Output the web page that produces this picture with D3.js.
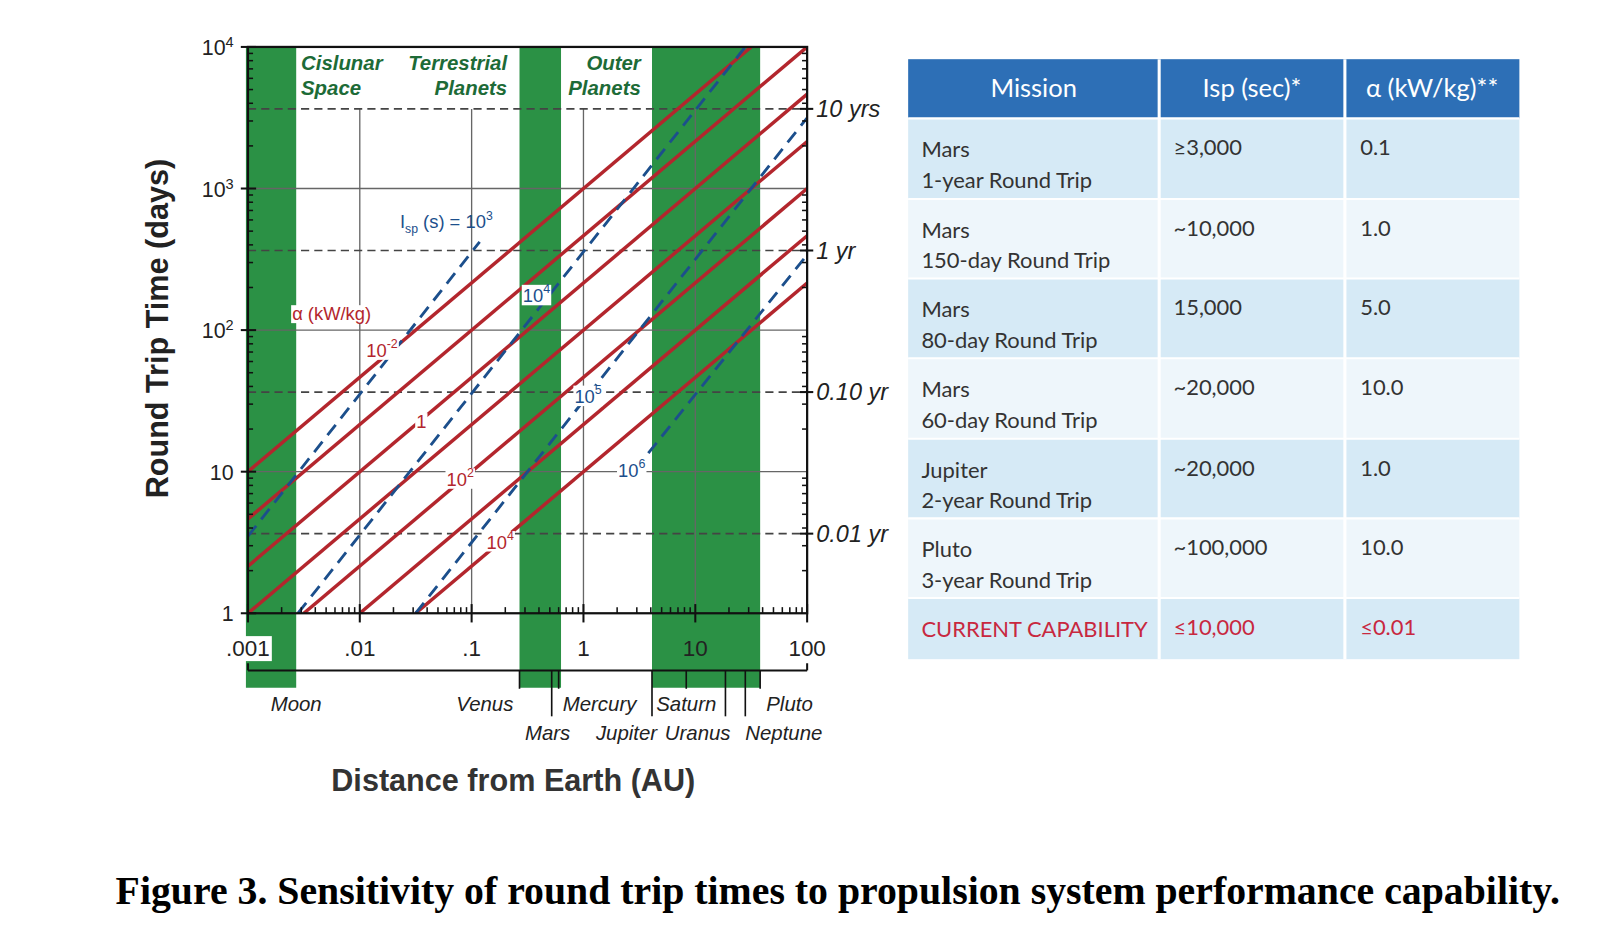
<!DOCTYPE html>
<html><head><meta charset="utf-8">
<script src="https://cdn.jsdelivr.net/npm/d3@7"></script>
<style>body{margin:0;background:#fff}svg{display:block}</style>
</head><body>
<svg id="c" width="1600" height="929"></svg>
<script>
// ---------------- data ----------------
const yTickVals = [1, 10, 100, 1000, 10000];
const yTickLabels = ["1", "10", "10^2", "10^3", "10^4"];
const xTickVals = [0.001, 0.01, 0.1, 1, 10, 100];
const xTickLabels = [".001", ".01", ".1", "1", "10", "100"];
const yearVals = [3652, 365, 36.5, 3.65];
const yearLabels = ["10 yrs", "1 yr", "0.10 yr", "0.01 yr"];
// green bands [from AU, to AU]
const bandFrom = [0.00095, 0.268, 4.1];
const bandTo = [0.0027, 0.63, 38];
const regionNames = [["Cislunar", "Space"], ["Terrestrial", "Planets"], ["Outer", "Planets"]];
// alpha (kW/kg) lines: start/end in data units (AU, days)
const alphaNames = ["10^-2", "10^-1", "1", "10", "10^2", "10^3", "10^4"];
const alphaX0 = [0.001, 0.001, 0.001, 0.001, 0.00316, 0.01, 0.0316];
const alphaY0 = [10, 4.64, 2.15, 1, 1, 1, 1];
const alphaX1 = [31.6, 100, 100, 100, 100, 100, 100];
const alphaY1 = [10000, 10000, 4640, 2150, 1000, 464, 215];
const alphaLabelX = [0.0158, null, 0.0355, null, 0.079, null, 0.18];
const alphaLabelY = [70, null, 22, null, 8.6, null, 3.1];
// Isp (s) lines
const ispNames = ["10^3", "10^4", "10^5", "10^6"];
const ispX0 = [0.001, 0.0028, 0.0316, 3.8];
const ispY0 = [3.5, 1, 1, 13.5];
const ispX1 = [0.118, 28, 100, 100];
const ispY1 = [420, 10000, 3160, 340];
const ispLabelX = [null, 0.38, 1.1, 2.7];
const ispLabelY = [null, 170, 33, 9.9];
// planets: name, distance AU, row
const planetNames = ["Moon", "Venus", "Mars", "Mercury", "Jupiter", "Saturn", "Uranus", "Neptune", "Pluto"];
const planetDist = [0.0027, 0.268, 0.52, 0.6, 4.1, 8.3, 18.6, 28, 38];
const planetRow = [1, 1, 2, 1, 2, 1, 2, 2, 1];
// table
const tableHeaders = ["Mission", "Isp (sec)*", "α (kW/kg)**"];
const missionNames = ["Mars", "Mars", "Mars", "Mars", "Jupiter", "Pluto", "CURRENT CAPABILITY"];
const missionDetail = ["1-year Round Trip", "150-day Round Trip", "80-day Round Trip", "60-day Round Trip", "2-year Round Trip", "3-year Round Trip", ""];
const ispReq = ["≥3,000", "~10,000", "15,000", "~20,000", "~20,000", "~100,000", "≤10,000"];
const alphaReq = ["0.1", "1.0", "5.0", "10.0", "1.0", "10.0", "≤0.01"];

// ---------------- chart ----------------
const root = d3.select("#c");
const svg = root.append("g").attr("transform", "scale(1.0204)");
const F = "'Liberation Sans', Arial, sans-serif";
const x = d3.scaleLog().domain([0.001, 100]).range([243, 791]);
const y = d3.scaleLog().domain([1, 10000]).range([601, 46]);
const GREEN = "#2b9145", RED = "#b3262d", BLUE = "#1c4f8c";

function supText(sel, s, size) {
  const parts = s.split("^");
  sel.text(null);
  sel.append("tspan").text(parts[0]);
  if (parts[1] !== undefined) sel.append("tspan").attr("font-size", size * 0.68).attr("dy", -size * 0.38).text(parts[1]);
}

const defs = root.append("defs");
defs.append("clipPath").attr("id", "pc").append("rect").attr("x", 243).attr("y", 46).attr("width", 548).attr("height", 555);

svg.selectAll(".band").data(bandFrom).enter().append("rect")
  .attr("x", (d) => Math.max(241, x(d))).attr("y", 46)
  .attr("width", (d, i) => x(bandTo[i]) - Math.max(241, x(d)))
  .attr("height", 674 - 46).attr("fill", GREEN);

const g = svg.append("g");
[10, 100, 1000].forEach(v => g.append("line").attr("x1", 243).attr("x2", 791).attr("y1", y(v)).attr("y2", y(v)).attr("stroke", "#666").attr("stroke-width", 1.3));
[0.01, 0.1, 1, 10].forEach(v => g.append("line").attr("x1", x(v)).attr("x2", x(v)).attr("y1", y(3652)).attr("y2", 601).attr("stroke", "#666").attr("stroke-width", 1.3));
yearVals.forEach(v => g.append("line").attr("x1", 243).attr("x2", 791).attr("y1", y(v)).attr("y2", y(v)).attr("stroke", "#444").attr("stroke-width", 1.6).attr("stroke-dasharray", "8,5"));

const rx = [295, 497, 628], ra = ["start", "end", "end"];
regionNames.forEach((n, i) => {
  n.forEach((t, j) => svg.append("text").attr("x", rx[i]).attr("y", 69 + j * 24).attr("text-anchor", ra[i])
    .attr("font-family", F).attr("font-size", 20).attr("font-weight", "bold").attr("font-style", "italic")
    .attr("fill", "#1d6b37").text(t));
});

const lg = svg.append("g").attr("clip-path", "url(#pc)");
alphaNames.forEach((n, i) => lg.append("line").attr("x1", x(alphaX0[i])).attr("y1", y(alphaY0[i])).attr("x2", x(alphaX1[i])).attr("y2", y(alphaY1[i]))
  .attr("stroke", RED).attr("stroke-width", 3.4));
ispNames.forEach((n, i) => lg.append("line").attr("x1", x(ispX0[i])).attr("y1", y(ispY0[i])).attr("x2", x(ispX1[i])).attr("y2", y(ispY1[i]))
  .attr("stroke", BLUE).attr("stroke-width", 2.8).attr("stroke-dasharray", "13,8"));

function boxLabel(px, py, s, color, size) {
  const t = svg.append("text").attr("x", px).attr("y", py).attr("text-anchor", "middle").attr("dominant-baseline", "middle")
    .attr("font-family", F).attr("font-size", size).attr("fill", color);
  supText(t, s, size);
  const b = t.node().getBBox();
  svg.insert("rect", () => t.node()).attr("x", b.x - 1).attr("y", b.y + 2).attr("width", b.width + 2).attr("height", b.height - 3).attr("fill", "#fff");
}
alphaNames.forEach((n, i) => { if (alphaLabelX[i]) boxLabel(x(alphaLabelX[i]), y(alphaLabelY[i]), n, RED, 18); });
ispNames.forEach((n, i) => { if (ispLabelX[i]) boxLabel(x(ispLabelX[i]), y(ispLabelY[i]), n, BLUE, 18); });
boxLabel(325, 309, "α (kW/kg)", RED, 18);
const it = svg.append("text").attr("x", 392).attr("y", 223).attr("font-family", F).attr("font-size", 18).attr("fill", BLUE);
it.append("tspan").text("I");
it.append("tspan").attr("font-size", 12).attr("dy", 5).text("sp");
it.append("tspan").attr("dy", -5).text(" (s) = 10");
it.append("tspan").attr("font-size", 12).attr("dy", -7).text("3");

svg.append("rect").attr("x", 243).attr("y", 46).attr("width", 548).attr("height", 555).attr("fill", "none").attr("stroke", "#111").attr("stroke-width", 2.2);

const minorY = [];
for (let e = 0; e < 4; e++) for (let k = 2; k <= 9; k++) minorY.push(k * Math.pow(10, e));
minorY.forEach(v => {
  svg.append("line").attr("x1", 243).attr("x2", 248).attr("y1", y(v)).attr("y2", y(v)).attr("stroke", "#111").attr("stroke-width", 1.5);
  svg.append("line").attr("x1", 786).attr("x2", 791).attr("y1", y(v)).attr("y2", y(v)).attr("stroke", "#111").attr("stroke-width", 1.5);
});
const minorX = [];
for (let e = -3; e < 2; e++) for (let k = 2; k <= 9; k++) minorX.push(k * Math.pow(10, e));
minorX.forEach(v => svg.append("line").attr("x1", x(v)).attr("x2", x(v)).attr("y1", 601).attr("y2", 595).attr("stroke", "#111").attr("stroke-width", 1.5));
xTickVals.forEach(v => svg.append("line").attr("x1", x(v)).attr("x2", x(v)).attr("y1", 592).attr("y2", 610).attr("stroke", "#111").attr("stroke-width", 2));
yTickVals.forEach(v => svg.append("line").attr("x1", 236).attr("x2", 251).attr("y1", y(v)).attr("y2", y(v)).attr("stroke", "#111").attr("stroke-width", 2));
yearVals.forEach(v => svg.append("line").attr("x1", 784).attr("x2", 797).attr("y1", y(v)).attr("y2", y(v)).attr("stroke", "#111").attr("stroke-width", 2));

yTickVals.forEach((v, i) => {
  const t = svg.append("text").attr("x", 229).attr("y", y(v) + 8).attr("text-anchor", "end").attr("font-family", F).attr("font-size", 21).attr("fill", "#222");
  supText(t, yTickLabels[i], 21);
});
xTickVals.forEach((v, i) => {
  const t = svg.append("text").attr("x", x(v)).attr("y", 643).attr("text-anchor", "middle").attr("font-family", F).attr("font-size", 22).attr("fill", "#222").text(xTickLabels[i]);
  if (i === 0) { const b = t.node().getBBox(); svg.insert("rect", () => t.node()).attr("x", b.x - 2).attr("y", b.y).attr("width", b.width + 4).attr("height", b.height).attr("fill", "#fff"); }
});
yearVals.forEach((v, i) => svg.append("text").attr("x", 800).attr("y", y(v) + 8).attr("font-family", F).attr("font-size", 23)
  .attr("font-style", "italic").attr("fill", "#222").text(yearLabels[i]));

svg.append("line").attr("x1", 243).attr("x2", 791).attr("y1", 657).attr("y2", 657).attr("stroke", "#111").attr("stroke-width", 2);
[243, 791].forEach(px => svg.append("line").attr("x1", px).attr("x2", px).attr("y1", 650).attr("y2", 657).attr("stroke", "#111").attr("stroke-width", 2));
const pAnchor = ["middle", "end", "middle", "start", "end", "middle", "end", "start", "start"];
const pOff = [0, -6, -4, 4, 5, 0, 5, 0, 6];
planetNames.forEach((n, i) => {
  const px = x(planetDist[i]);
  if (i > 0) svg.append("line").attr("x1", px).attr("x2", px).attr("y1", 657).attr("y2", planetRow[i] === 1 ? 675 : 702).attr("stroke", "#111").attr("stroke-width", 1.6);
  svg.append("text").attr("x", px + pOff[i]).attr("y", planetRow[i] === 1 ? 697 : 725).attr("text-anchor", pAnchor[i])
    .attr("font-family", F).attr("font-size", 20).attr("font-style", "italic").attr("fill", "#222").text(n);
});

svg.append("text").attr("transform", "translate(165,322) rotate(-90)").attr("text-anchor", "middle").attr("font-family", F)
  .attr("font-size", 30).attr("font-weight", "bold").attr("fill", "#222").text("Round Trip Time (days)");
svg.append("text").attr("x", 503).attr("y", 775).attr("text-anchor", "middle").attr("font-family", F)
  .attr("font-size", 30).attr("font-weight", "bold").attr("fill", "#333").text("Distance from Earth (AU)");

// ---------------- table ----------------
const TF = "Lato, 'Open Sans', sans-serif";
const colX = [890, 1136, 1318, 1489];
const rowY = [58, 116, 195, 273, 351, 430, 508, 586, 646];
svg.append("rect").attr("x", colX[0]).attr("y", rowY[0]).attr("width", colX[3] - colX[0]).attr("height", rowY[1] - rowY[0]).attr("fill", "#2d6fb6");
tableHeaders.forEach((h, j) => svg.append("text").attr("x", (colX[j] + colX[j + 1]) / 2).attr("y", rowY[0] + 37).attr("text-anchor", "middle")
  .attr("font-family", TF).attr("font-size", 25).attr("fill", "#fff").text(h));
missionNames.forEach((m, i) => {
  const top = rowY[i + 1], h = rowY[i + 2] - top;
  svg.append("rect").attr("x", colX[0]).attr("y", top).attr("width", colX[3] - colX[0]).attr("height", h).attr("fill", i % 2 === 0 ? "#d6eaf6" : "#eef6fb");
  const col = i === 6 ? "#c8283f" : "#333";
  svg.append("text").attr("x", colX[0] + 13).attr("y", top + 38).attr("font-family", TF).attr("font-size", 21.5).attr("fill", col).text(m);
  if (missionDetail[i]) svg.append("text").attr("x", colX[0] + 13).attr("y", top + 68).attr("font-family", TF).attr("font-size", 21.5).attr("fill", col).text(missionDetail[i]);
  svg.append("text").attr("x", colX[1] + 14).attr("y", top + 36).attr("font-family", TF).attr("font-size", 21.5).attr("fill", col).text(ispReq[i]);
  svg.append("text").attr("x", colX[2] + 15).attr("y", top + 36).attr("font-family", TF).attr("font-size", 21.5).attr("fill", col).text(alphaReq[i]);
});
[colX[1], colX[2]].forEach(cx => svg.append("line").attr("x1", cx).attr("x2", cx).attr("y1", rowY[0]).attr("y2", rowY[8]).attr("stroke", "#fff").attr("stroke-width", 3));
rowY.slice(1, 8).forEach(ry => svg.append("line").attr("x1", colX[0]).attr("x2", colX[3]).attr("y1", ry).attr("y2", ry).attr("stroke", "#fff").attr("stroke-width", 2));

svg.append("text").attr("x", 821).attr("y", 886).attr("text-anchor", "middle").attr("font-family", "'Liberation Serif', 'Times New Roman', serif")
  .attr("font-size", 39).attr("font-weight", "bold").attr("fill", "#000")
  .text("Figure 3. Sensitivity of round trip times to propulsion system performance capability.");
</script>
</body></html>
